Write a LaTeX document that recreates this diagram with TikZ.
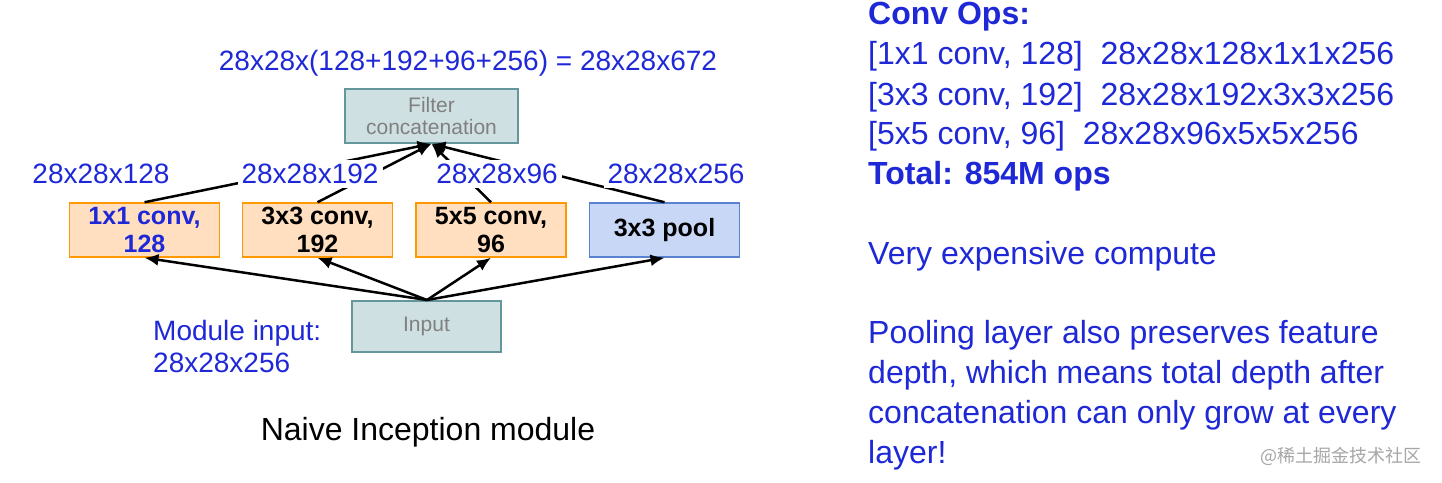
\documentclass[tikz,border=0pt]{standalone}
\usepackage{fontspec}
\setmainfont{Liberation Sans}
\newfontfamily\cjk{Noto Sans CJK SC}
\usetikzlibrary{arrows.meta}
\begin{document}
\begin{tikzpicture}[x=1pt,y=-1pt,
  bl/.style={text=blu,font=\fontsize{28}{32}\selectfont},
  rt/.style={text=blu,font=\fontsize{32}{36}\selectfont,anchor=west,inner sep=0},
  cv/.style={draw=orange!80!yellow,fill=orange!25,line width=1.5pt,minimum width=150pt,minimum height=54pt,align=center,font=\bfseries\fontsize{25}{28}\selectfont,inner sep=0},
  tl/.style={draw=tealb,fill=tealf,line width=1.5pt,text=gray,align=center,font=\fontsize{21}{22}\selectfont,inner sep=0},
  ar/.style={-{Latex[length=14pt,width=12pt]},line width=2.5pt}]
\definecolor{blu}{RGB}{30,40,215}
\definecolor{tealb}{RGB}{100,150,155}
\definecolor{tealf}{RGB}{207,224,227}
\definecolor{poolf}{RGB}{200,215,245}
\definecolor{poolb}{RGB}{90,130,210}
\useasboundingbox (0,0) rectangle (1442,482);
\fill[white] (0,0) rectangle (1442,482);
\node[tl,minimum width=173pt,minimum height=54pt] (cat) at (431.5,116) {Filter\\concatenation};
\node[tl,minimum width=149pt,minimum height=51pt] (in) at (426.5,326.5) {Input};
\node[cv,text=blu] (c1) at (144.5,230) {1x1 conv,\\128};
\node[cv] (c2) at (317.5,230) {3x3 conv,\\192};
\node[cv] (c3) at (491,230) {5x5 conv,\\96};
\node[cv,draw=poolb,fill=poolf] (p) at (664.5,230) {3x3 pool};
\coordinate (src) at (427,300);
\foreach \b in {c1,c2,c3,p} {\draw[ar] (src) -- (\b.south); \draw[ar] (\b.north) -- (cat.south);}
\node[bl,fill=white,inner sep=4pt] (l1) at (101,174) {28x28x128};
\node[bl,fill=white,inner sep=4pt] (l2) at (310,174) {28x28x192};
\node[bl,fill=white,inner sep=4pt] (l3) at (497,174) {28x28x96};
\node[bl,fill=white,inner sep=4pt] (l4) at (676,174) {28x28x256};
\node[bl] (top) at (468,63) {28x28x(128+192+96+256) = 28x28x672};
\node[bl,anchor=west,align=left,inner sep=0] (mi) at (153,346) {Module input:\\28x28x256};
\node[font=\fontsize{32}{36}\selectfont] (cap) at (428,432) {Naive Inception module};
\node[rt,font=\bfseries\fontsize{32}{36}\selectfont] (r1) at (868,17) {Conv Ops:};
\node[rt] (r2) at (868,56) {[1x1 conv, 128]\ \ 28x28x128x1x1x256};
\node[rt] (r3) at (868,97) {[3x3 conv, 192]\ \ 28x28x192x3x3x256};
\node[rt] (r4) at (868,136) {[5x5 conv, 96]\ \ 28x28x96x5x5x256};
\node[rt,font=\bfseries\fontsize{32}{36}\selectfont] (r5) at (868,176) {Total: 854M ops};
\node[rt] (r6) at (868,256) {Very expensive compute};
\node[rt] (r7) at (868,335) {Pooling layer also preserves feature};
\node[rt] (r8) at (868,375) {depth, which means total depth after};
\node[rt] (r9) at (868,415) {concatenation can only grow at every};
\node[rt] (r10) at (868,455) {layer!};
\node[text=gray!70,font=\cjk\fontsize{18}{20}\selectfont,anchor=east] (wm) at (1425,456) {@稀土掘金技术社区};
\end{tikzpicture}
\end{document}
